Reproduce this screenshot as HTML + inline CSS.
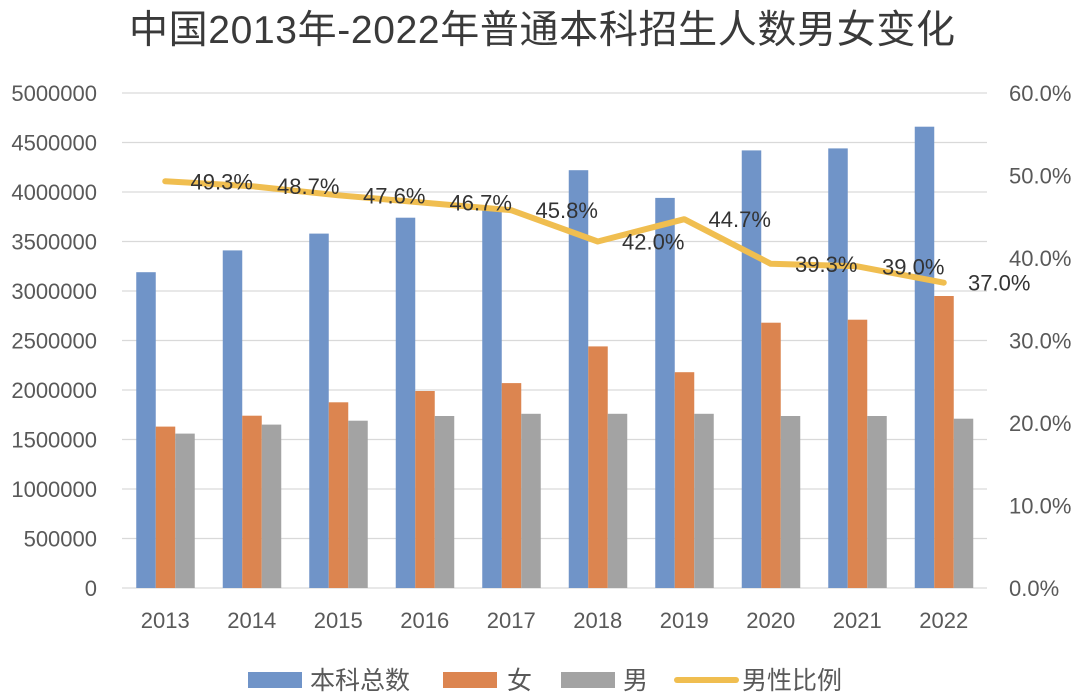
<!DOCTYPE html>
<html><head><meta charset="utf-8"><style>
html,body{margin:0;padding:0;background:#fff;}
svg{display:block;}
text{font-family:"Liberation Sans","Noto Sans CJK SC",sans-serif;}
</style></head><body>
<svg width="1080" height="699" viewBox="0 0 1080 699" xmlns="http://www.w3.org/2000/svg">
<rect width="1080" height="699" fill="#fff"/>
<text x="129" y="43" font-size="39" fill="#3a3a3a" textLength="826" lengthAdjust="spacing">中国2013年-2022年普通本科招生人数男女变化</text>
<g stroke="#d9d9d9" stroke-width="1.3">
<line x1="122" x2="987" y1="93" y2="93"/>
<line x1="122" x2="987" y1="142.5" y2="142.5"/>
<line x1="122" x2="987" y1="192" y2="192"/>
<line x1="122" x2="987" y1="241.5" y2="241.5"/>
<line x1="122" x2="987" y1="291" y2="291"/>
<line x1="122" x2="987" y1="340.5" y2="340.5"/>
<line x1="122" x2="987" y1="390" y2="390"/>
<line x1="122" x2="987" y1="439.5" y2="439.5"/>
<line x1="122" x2="987" y1="489" y2="489"/>
<line x1="122" x2="987" y1="538.5" y2="538.5"/>
<line x1="122" x2="987" y1="588" y2="588"/>
</g>
<g font-size="22" fill="#595959" text-anchor="end">
<text x="97" y="101">5000000</text>
<text x="97" y="150.5">4500000</text>
<text x="97" y="200">4000000</text>
<text x="97" y="249.5">3500000</text>
<text x="97" y="299">3000000</text>
<text x="97" y="348.5">2500000</text>
<text x="97" y="398">2000000</text>
<text x="97" y="447.5">1500000</text>
<text x="97" y="497">1000000</text>
<text x="97" y="546.5">500000</text>
<text x="97" y="596">0</text>
</g>
<g font-size="22" fill="#595959">
<text x="1009" y="101">60.0%</text>
<text x="1009" y="183.5">50.0%</text>
<text x="1009" y="266">40.0%</text>
<text x="1009" y="348.5">30.0%</text>
<text x="1009" y="431">20.0%</text>
<text x="1009" y="513.5">10.0%</text>
<text x="1009" y="596">0.0%</text>
</g>
<g fill="#7094c8">
<rect x="136.25" y="272.2" width="19.5" height="315.8"/>
<rect x="222.75" y="250.4" width="19.5" height="337.6"/>
<rect x="309.25" y="233.6" width="19.5" height="354.4"/>
<rect x="395.75" y="217.7" width="19.5" height="370.3"/>
<rect x="482.25" y="209.8" width="19.5" height="378.2"/>
<rect x="568.75" y="170.2" width="19.5" height="417.8"/>
<rect x="655.25" y="197.9" width="19.5" height="390.1"/>
<rect x="741.75" y="150.4" width="19.5" height="437.6"/>
<rect x="828.25" y="148.4" width="19.5" height="439.6"/>
<rect x="914.75" y="126.7" width="19.5" height="461.3"/>
</g>
<g fill="#dc8550">
<rect x="155.75" y="426.6" width="19.5" height="161.4"/>
<rect x="242.25" y="415.7" width="19.5" height="172.3"/>
<rect x="328.75" y="402.3" width="19.5" height="185.7"/>
<rect x="415.25" y="391" width="19.5" height="197"/>
<rect x="501.75" y="383.1" width="19.5" height="204.9"/>
<rect x="588.25" y="346.4" width="19.5" height="241.6"/>
<rect x="674.75" y="372.2" width="19.5" height="215.8"/>
<rect x="761.25" y="322.7" width="19.5" height="265.3"/>
<rect x="847.75" y="319.7" width="19.5" height="268.3"/>
<rect x="934.25" y="296" width="19.5" height="292"/>
</g>
<g fill="#a3a3a3">
<rect x="175.25" y="433.6" width="19.5" height="154.4"/>
<rect x="261.75" y="424.6" width="19.5" height="163.4"/>
<rect x="348.25" y="420.7" width="19.5" height="167.3"/>
<rect x="434.75" y="416" width="19.5" height="172"/>
<rect x="521.25" y="413.8" width="19.5" height="174.2"/>
<rect x="607.75" y="413.8" width="19.5" height="174.2"/>
<rect x="694.25" y="413.8" width="19.5" height="174.2"/>
<rect x="780.75" y="416" width="19.5" height="172"/>
<rect x="867.25" y="416" width="19.5" height="172"/>
<rect x="953.75" y="418.7" width="19.5" height="169.3"/>
</g>
<polyline fill="none" stroke="#f0be50" stroke-width="6" stroke-linecap="round" stroke-linejoin="round"
 points="165.25,181.3 251.75,186.2 338.25,195.3 424.75,202.7 511.25,210.2 597.75,241.5 684.25,219.2 770.75,263.8 857.25,266.3 943.75,282.7"/>
<g font-size="22" fill="#333">
<text x="190.5" y="189.3">49.3%</text>
<text x="277" y="194.2">48.7%</text>
<text x="363" y="203.3">47.6%</text>
<text x="449.5" y="210.7">46.7%</text>
<text x="535.5" y="218.2">45.8%</text>
<text x="622" y="249.5">42.0%</text>
<text x="708.5" y="227.2">44.7%</text>
<text x="795" y="271.8">39.3%</text>
<text x="882" y="274.3">39.0%</text>
<text x="968" y="290.7">37.0%</text>
</g>
<g font-size="22" fill="#595959" text-anchor="middle">
<text x="165.25" y="628">2013</text>
<text x="251.75" y="628">2014</text>
<text x="338.25" y="628">2015</text>
<text x="424.75" y="628">2016</text>
<text x="511.25" y="628">2017</text>
<text x="597.75" y="628">2018</text>
<text x="684.25" y="628">2019</text>
<text x="770.75" y="628">2020</text>
<text x="857.25" y="628">2021</text>
<text x="943.75" y="628">2022</text>
</g>
<rect x="248" y="672" width="54" height="16" fill="#7094c8"/>
<rect x="443" y="672" width="54" height="16" fill="#dc8550"/>
<rect x="561" y="672" width="54" height="16" fill="#a3a3a3"/>
<line x1="677" y1="680" x2="736" y2="680" stroke="#f0be50" stroke-width="6" stroke-linecap="round"/>
<g font-size="25" fill="#595959">
<text x="310" y="689">本科总数</text>
<text x="507" y="689">女</text>
<text x="623" y="689">男</text>
<text x="742" y="689">男性比例</text>
</g>
</svg>
</body></html>
